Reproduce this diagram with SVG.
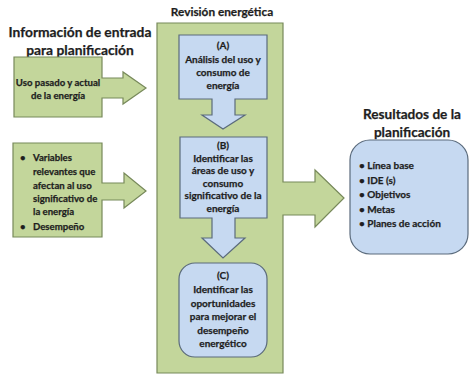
<svg xmlns="http://www.w3.org/2000/svg" width="474" height="381" viewBox="0 0 474 381">
<style>
.g{fill:#c3d69b;stroke:#77895a;stroke-width:1.2}
.b{fill:#c6d9f1;stroke:#5b6b7c;stroke-width:1.2}
text{font-family:Lato,"Liberation Sans",sans-serif;font-weight:bold;fill:#1e1e1e;stroke:#1e1e1e;stroke-width:0.25}
.t{font-size:14px}
.s{font-size:10px}
.s2{font-size:9.6px}
.m{text-anchor:middle}
</style>
<rect width="474" height="381" fill="#ffffff"/>
<g id="title-input">
<text class="t m" x="80" y="37" style="font-size:13.8px">Información de entrada</text>
<text class="t m" x="80" y="54.5" style="font-size:13.8px">para planificación</text>
</g>
<g id="title-review">
<text class="t m" x="222" y="16" style="font-size:11.8px">Revisión energética</text>
</g>
<g id="title-results">
<text class="t m" x="412" y="119" style="font-size:13.6px">Resultados de la</text>
<text class="t m" x="412" y="136.5" style="font-size:13.6px">planificación</text>
</g>
<g id="connectors">
</g>
<g id="review">
<path class="g" d="M157,23 H283 V182 H315 V170 L344,198 L315,227 V215 H283 V373 H157 Z"/>
</g>
<g id="input1">
<path class="g" d="M14,57 H102 V78 H123 V72 L146,88 L123,104 V98 H102 V117 H14 Z"/>
<text class="s2 m" x="58" y="86">Uso pasado y actual</text>
<text class="s2 m" x="58" y="99">de la energía</text>
</g>
<g id="input2">
<path class="g" d="M13,143 H102 V183 H124 V173 L146,191 L124,208 V200 H102 V237 H13 Z"/>
<text class="s2" x="20" y="161">•</text>
<text class="s2" x="33" y="161">Variables</text>
<text class="s2" x="33" y="175">relevantes que</text>
<text class="s2" x="33" y="189">afectan al uso</text>
<text class="s2" x="33" y="202">significativo de</text>
<text class="s2" x="33" y="215">la energía</text>
<text class="s2" x="20" y="230">•</text>
<text class="s2" x="33" y="230">Desempeño</text>
</g>
<g id="stepA">
<path class="b" d="M179,35 H267 V99 H235 V115 H245 L223,129 L202,115 H212 V99 H179 Z"/>
<text class="s m" x="223" y="49">(A)</text>
<text class="s m" x="223" y="63">Análisis del uso y</text>
<text class="s m" x="223" y="76">consumo de</text>
<text class="s m" x="223" y="89">energía</text>
</g>
<g id="stepB">
<path class="b" d="M180,137 H267 V218 H235 V238 H245 L223,258 L202,238 H212 V218 H180 Z"/>
<text class="s m" x="223" y="149">(B)</text>
<text class="s m" x="223" y="161.5">Identificar las</text>
<text class="s m" x="223" y="174">áreas de uso y</text>
<text class="s m" x="223" y="186.5">consumo</text>
<text class="s m" x="223" y="199">significativo de la</text>
<text class="s m" x="223" y="211.5">energía</text>
</g>
<g id="stepC">
<rect class="b" x="179" y="263" width="88" height="94" rx="16"/>
<text class="s m" x="223" y="279">(C)</text>
<text class="s m" x="223" y="293">Identificar las</text>
<text class="s m" x="223" y="306.5">oportunidades</text>
<text class="s m" x="223" y="320">para mejorar el</text>
<text class="s m" x="223" y="334">desempeño</text>
<text class="s m" x="223" y="347">energético</text>
</g>
<g id="results">
<rect class="b" x="350" y="140" width="118" height="114" rx="20"/>
<text class="s" x="359" y="169">• Línea base</text>
<text class="s" x="359" y="184">• IDE (s)</text>
<text class="s" x="359" y="198">• Objetivos</text>
<text class="s" x="359" y="213">• Metas</text>
<text class="s" x="359" y="227">• Planes de acción</text>
</g>
</svg>
